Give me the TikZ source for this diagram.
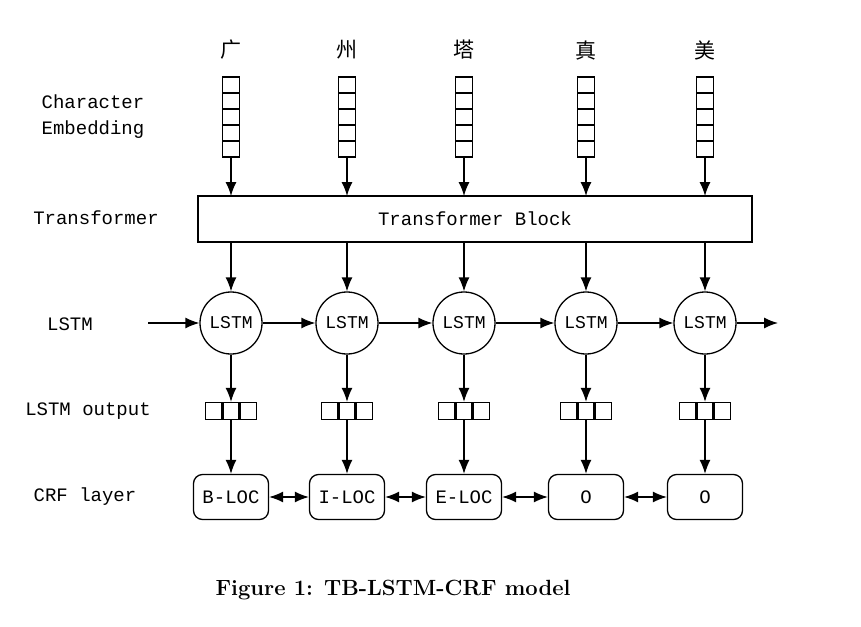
\documentclass[tikz,border=0pt]{standalone}
\usepackage{fontspec}
\setmonofont{Liberation Mono}
\newfontfamily\cjk{Noto Sans CJK SC}
\usetikzlibrary{arrows.meta,positioning}
\begin{document}
\begin{tikzpicture}[x=1pt, y=-1pt, line width=1.3pt,
    lbl/.style={font=\fontsize{19}{26}\selectfont\ttfamily, align=left},
    cell/.style={draw, minimum width=17pt, minimum height=16pt, inner sep=0pt},
    ocell/.style={draw, minimum width=16pt, minimum height=17pt, inner sep=0pt},
    lstm/.style={circle, draw, minimum size=62pt, inner sep=0pt, font=\fontsize{18}{20}\selectfont\ttfamily},
    crf/.style={draw, rounded corners=9pt, minimum width=75pt, minimum height=45pt, inner sep=0pt, font=\fontsize{19}{20}\selectfont\ttfamily},
    arr/.style={-{Latex[length=14pt,width=11pt]}},
    darr/.style={{Latex[length=14pt,width=11pt]}-{Latex[length=14pt,width=11pt]}}]
  \useasboundingbox (0,0) rectangle (861,626);

  % left labels
  \node[lbl] at (93,117) {Character\\Embedding};
  \node[lbl] at (96,218) {Transformer};
  \node[lbl] at (70,324) {LSTM};
  \node[lbl] at (88,411) {LSTM output};
  \node[lbl] at (85,497) {CRF layer};

  % transformer block
  \node[draw, minimum width=554pt, minimum height=46pt,
    font=\fontsize{19}{20}\selectfont\ttfamily] (tb) at (475,219) {Transformer Block};

  \foreach \i/\x/\c/\t in {1/231/广/B-LOC, 2/347/州/I-LOC, 3/464/塔/E-LOC, 4/586/真/O, 5/705/美/O} {
    \node[font=\fontsize{21}{22}\selectfont\cjk] (ch\i) at (\x,50) {\c};
    \foreach \k in {0,...,4}
      \node[cell] (e\i\k) at (\x,85+16*\k) {};
    \draw[arr] (e\i4.south) -- (\x,196);
    \node[lstm] (l\i) at (\x,323) {LSTM};
    \draw[arr] (\x,242) -- (l\i.north);
    \node[ocell] (o\i b) at (\x,411) {};
    \node[ocell, left=0pt of o\i b] (o\i a) {};
    \node[ocell, right=0pt of o\i b] (o\i c) {};
    \draw[arr] (l\i.south) -- (o\i b.north);
    \node[crf] (c\i) at (\x,497) {\t};
    \draw[arr] (o\i b.south) -- (c\i.north);
  }

  % recurrent and CRF links
  \coordinate (in) at (148,323);
  \coordinate (out) at (778,323);
  \draw[arr] (in) -- (l1);
  \foreach \a/\b in {1/2, 2/3, 3/4, 4/5} {
    \draw[arr] (l\a) -- (l\b);
    \draw[darr] (c\a) -- (c\b);
  }
  \draw[arr] (l5) -- (out);

  \node[font=\bfseries\fontsize{22}{24}\selectfont] (cap) at (393,590) {Figure 1: TB-LSTM-CRF model};
\end{tikzpicture}
\end{document}
